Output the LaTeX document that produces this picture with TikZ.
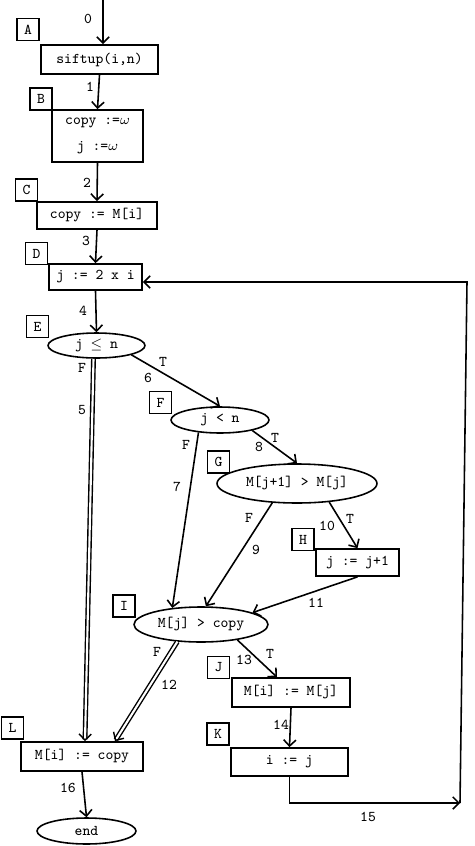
\documentclass[tikz,border=0pt]{standalone}
\usetikzlibrary{arrows.meta,shapes.geometric}
\tikzset{
	txt/.style={font=\ttfamily\fontsize{8.5}{10}\selectfont},
	box/.style={txt, draw, line width=1pt, inner sep=0pt},
	cond/.style={txt, draw, line width=0.9pt, ellipse, inner sep=0pt},
	tag/.style={txt, draw, line width=0.9pt, minimum size=0.44cm, inner sep=0pt},
	flow/.style={line width=0.9pt, -{Straight Barb[length=3.5pt,width=7pt]}},
	twin/.style={flow, line width=0.8pt, double, double distance=1.2pt}
}

\begin{document}
\begin{tikzpicture}[x=0.02cm, y=-0.02cm]
				\useasboundingbox (0,0) rectangle (474,846);
				
				\node[box, minimum width=2.34cm, minimum height=0.58cm] (A) at (99.5,59.5) {siftup(i,n)};
				\node[box, minimum width=1.82cm, minimum height=1.04cm, align=center] (B) at (97.5,136) {copy :=$\omega$\\[5pt]j :=$\omega$};
				\node[box, minimum width=2.40cm, minimum height=0.54cm] (C) at (97,215.5) {copy := M[i]};
				\node[box, minimum width=1.86cm, minimum height=0.52cm] (D) at (95.5,277) {j := 2 x i};
				\node[cond, minimum width=1.94cm, minimum height=0.50cm] (E) at (96.5,345.5) {j $\le$ n};
				\node[cond, minimum width=1.96cm, minimum height=0.52cm] (F) at (220,420) {j < n};
				\node[cond, minimum width=3.20cm, minimum height=0.78cm] (G) at (297,483.5) {M[j+1] > M[j]};
				\node[box, minimum width=1.66cm, minimum height=0.54cm] (H) at (357.5,562.5) {j := j+1};
				\node[cond, minimum width=2.68cm, minimum height=0.70cm] (I) at (201,624.5) {M[j] > copy};
				\node[box, minimum width=2.36cm, minimum height=0.58cm] (J) at (291,692.5) {M[i] := M[j]};
				\node[box, minimum width=2.34cm, minimum height=0.56cm] (K) at (289.5,762) {i := j};
				\node[box, minimum width=2.44cm, minimum height=0.58cm] (L) at (82,756.5) {M[i] := copy};
				\node[cond, minimum width=1.98cm, minimum height=0.52cm] (stop) at (86.5,831) {end};
				
				\node[tag] (tagA) at (28,29.5) {A};
				\node[tag] (tagB) at (41,99) {B};
				\node[tag] (tagC) at (26.5,190) {C};
				\node[tag] (tagD) at (36.5,253.5) {D};
				\node[tag] (tagE) at (37.5,326.5) {E};
				\node[tag] (tagF) at (160.5,402.5) {F};
				\node[tag] (tagG) at (218.5,462) {G};
				\node[tag] (tagH) at (303,539.5) {H};
				\node[tag] (tagI) at (124,606) {I};
				\node[tag] (tagJ) at (218.5,667.5) {J};
				\node[tag] (tagK) at (218,734) {K};
				\node[tag] (tagL) at (12.5,728) {L};
				
				\coordinate (in) at (103,0);
				\coordinate (c15) at (460,803);
				\coordinate (cup) at (467,282);
				
				\draw[flow] (in) -- (in |- A.north);
				\draw[flow] (A.south) -- (B.north);
				\draw[flow] (B.south) -- (C.north);
				\draw[flow] (C.south) -- (D.north);
				\draw[flow] (D.south) -- (E.north);
				\draw[twin] ([xshift=-0.06cm]E.south) -- ([xshift=0.06cm]L.north);
				\draw[flow] (E.-15) -- (F.north);
				\draw[flow] (F.-150) -- (I.150);
				\draw[flow] (F.-18) -- (G.north);
				\draw[flow] (G.-142) -- (I.75);
				\draw[flow] (G.-30) -- (H.north);
				\draw[flow] (H.south) -- (I.13);
				\draw[twin] (I.-144) -- ([xshift=0.66cm]L.north);
				\draw[flow] (I.-23) -- ([xshift=-0.28cm]J.north);
				\draw[flow] (J.south) -- (K.north);
				\draw[flow] (K.south) |- (c15);
				\draw[flow] (c15) -- (cup) -- (cup -| D.east);
				\draw[flow] (L.south) -- (stop.north);
				
				\node[txt] (n0) at (88,19) {0};
				\node[txt] (n1) at (90,87) {1};
				\node[txt] (n2) at (87,183) {2};
				\node[txt] (n3) at (86,241) {3};
				\node[txt] (n4) at (83,311) {4};
				\node[txt] (n5) at (82,410) {5};
				\node[txt] (n6) at (148,378) {6};
				\node[txt] (n7) at (177,487) {7};
				\node[txt] (n8) at (259,447) {8};
				\node[txt] (n9) at (256,550) {9};
				\node[txt] (n10) at (327,526) {10};
				\node[txt] (n11) at (316,603) {11};
				\node[txt] (n12) at (169,685) {12};
				\node[txt] (n13) at (244,660) {13};
				\node[txt] (n14) at (281,725) {14};
				\node[txt] (n15) at (368,817) {15};
				\node[txt] (n16) at (68,788) {16};
				
				\node[txt] (fE) at (82,368) {F};
				\node[txt] (tE) at (163,362) {T};
				\node[txt] (fF) at (186,445) {F};
				\node[txt] (tF) at (275,438) {T};
				\node[txt] (fG) at (249,518) {F};
				\node[txt] (tG) at (350,519) {T};
				\node[txt] (fI) at (157,652) {F};
				\node[txt] (tI) at (270,654) {T};
			\end{tikzpicture}
\end{document}
